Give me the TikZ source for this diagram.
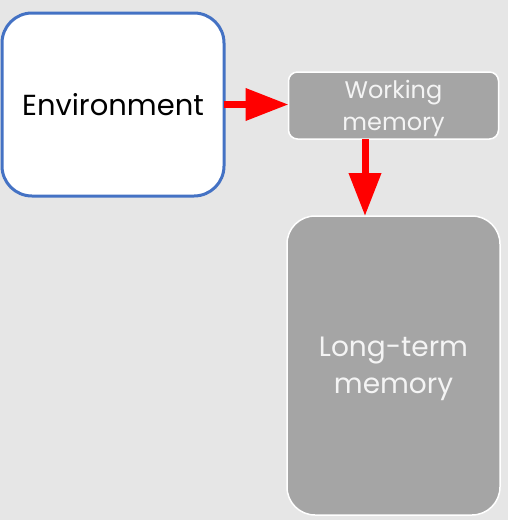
\documentclass[tikz,border=0pt]{standalone}
\usepackage{fontspec}
\setmainfont{Poppins}
\usetikzlibrary{arrows.meta}
\definecolor{bg}{HTML}{E6E6E6}
\definecolor{boxgray}{HTML}{A5A5A5}
\definecolor{envblue}{HTML}{4472C4}
\definecolor{txtwhite}{HTML}{F4F4F4}
\tikzset{
  envbox/.style={draw=envblue, line width=3pt, fill=white, rounded corners=30pt,
    minimum width=222pt, minimum height=183pt, inner sep=0pt, outer sep=0pt,
    font=\fontsize{29}{34}\selectfont, text=black},
  graybox/.style={draw=white, line width=1.5pt, fill=boxgray, inner sep=0pt, outer sep=0pt,
    text=txtwhite, align=center},
  redarrow/.style={draw=red, line width=7pt, -{Triangle[length=43pt, width=31pt]}}
}
\begin{document}
\begin{tikzpicture}[x=1pt, y=-1pt]
\fill[bg] (0,0) rectangle (508,520);
\useasboundingbox (0,0) rectangle (508,520);
\node[envbox] (env) at (113,104.5) {Environment};
\node[graybox, rounded corners=9pt, minimum width=210pt, minimum height=67pt] (wm) at (393.5,105.5) {};
\node[text=txtwhite, align=center, inner sep=0pt, font=\fontsize{24}{32}\selectfont]
  (wmt) at (393.5,108) {Working\\memory};
\node[graybox, rounded corners=28pt, minimum width=213pt, minimum height=299pt] (lt) at (393.5,365.5) {};
\node[text=txtwhite, align=center, inner sep=0pt, font=\fontsize{28}{37}\selectfont]
  (ltt) at (393.5,368.5) {Long-term\\memory};
\coordinate (a2) at (365,139);
\draw[redarrow] (env.east) -- (env.east -| wm.west);
\draw[redarrow] (a2) -- (a2 |- lt.north);
\end{tikzpicture}
\end{document}
